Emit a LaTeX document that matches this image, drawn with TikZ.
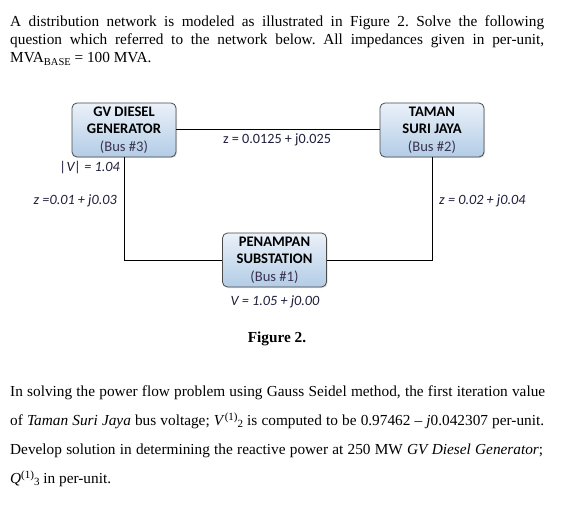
\documentclass[tikz,border=0pt]{standalone}
\usepackage{fontspec}
\setmainfont{Liberation Serif}
\newfontfamily\calfont{Carlito}
\usetikzlibrary{shadows}
\frenchspacing
\definecolor{boxtop}{HTML}{EAF1F9}
\definecolor{boxbot}{HTML}{B3CCE6}
\definecolor{boxline}{HTML}{4A4A4A}
\definecolor{labtxt}{HTML}{1E1E3C}
\definecolor{bustxt}{HTML}{3A3350}
\tikzset{
  busbox/.style={draw=boxline, line width=0.8pt, rounded corners=5pt,
    top color=boxtop, bottom color=boxbot, minimum width=104pt, minimum height=54pt,
    inner sep=0pt, align=center, text=black,
    font=\calfont\fontsize{14.6}{17.6}\selectfont,
    drop shadow={opacity=0.25, shadow xshift=1pt, shadow yshift=-1pt}},
  wire/.style={draw=black, line width=1pt},
  lab/.style={text=labtxt, inner sep=0pt, font=\calfont\fontsize{14.2}{17}\selectfont},
  ilab/.style={lab, font=\calfont\itshape\fontsize{14.2}{17}\selectfont},
  para/.style={anchor=base west, inner sep=0pt, font=\fontsize{15.3}{18}\selectfont}
}
\begin{document}
\begin{tikzpicture}[x=1pt,y=-1pt]
\useasboundingbox (0,0) rectangle (573,508);
% top paragraph
\node[para] (t1) at (10,27) {\makebox[534pt][s]{A distribution network is modeled as illustrated in Figure 2. Solve the following}};
\node[para] (t2) at (10,45) {\makebox[534pt][s]{question which referred to the network below. All impedances given in per-unit,}};
\node[para] (t3) at (10,63) {MVA\raisebox{-2.2pt}{\fontsize{10.5}{10}\selectfont BASE} = 100 MVA.};
% boxes
\node[busbox] (gv) at (124,130) {\textbf{GV DIESEL}\\\textbf{GENERATOR}\\\textcolor{bustxt}{(Bus \#3)}};
\node[busbox] (tsj) at (432,130) {\textbf{TAMAN}\\\textbf{SURI JAYA}\\\textcolor{bustxt}{(Bus \#2)}};
\node[busbox] (pen) at (274.5,260) {\textbf{PENAMPAN}\\\textbf{SUBSTATION}\\\textcolor{bustxt}{(Bus \#1)}};
% connectors
\draw[wire] (gv.east) -- (tsj.west);
\draw[wire] (gv.south) |- (pen.west);
\draw[wire] (tsj.south) |- (pen.east);
% labels
\node[lab] (z32) at (277,140) {z = 0.0125 + j0.025};
\node[ilab, anchor=east] (v3) at (120,168) {|V| = 1.04};
\node[ilab, anchor=east] (z31) at (117,201) {z =0.01 + j0.03};
\node[ilab, anchor=west] (z21) at (439,201) {z = 0.02 + j0.04};
\node[ilab] (v1) at (275,302) {V = 1.05 + j0.00};
\node[anchor=base, inner sep=0pt, font=\bfseries\fontsize{15.3}{18}\selectfont] (fig) at (277,342) {Figure 2.};
% bottom paragraph
\node[para] (b1) at (10,396) {\makebox[535pt][s]{In solving the power flow problem using Gauss Seidel method, the first iteration value}};
\node[para] (b2) at (10,425) {\makebox[534pt][s]{of \textit{Taman Suri Jaya} bus voltage; \textit{V}\raisebox{5pt}{\fontsize{11}{10}\selectfont(1)}\raisebox{-2.5pt}{\fontsize{11}{10}\selectfont 2} is computed to be 0.97462 -- \textit{j}0.042307 per-unit.}};
\node[para] (b3) at (10,454) {\makebox[533pt][s]{Develop solution in determining the reactive power at 250 MW \textit{GV Diesel Generator};}};
\node[para] (b4) at (10,483) {\textit{Q}\raisebox{5pt}{\fontsize{11}{10}\selectfont(1)}\raisebox{-2.5pt}{\fontsize{11}{10}\selectfont 3} in per-unit.};
\end{tikzpicture}
\end{document}
